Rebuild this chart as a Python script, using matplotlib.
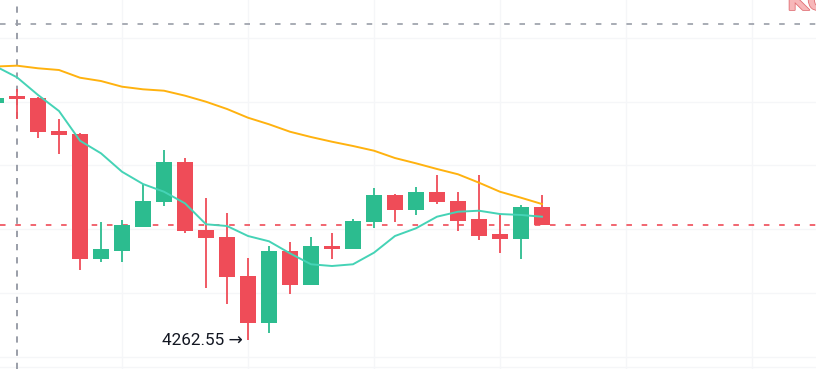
import matplotlib
matplotlib.use("Agg")
import matplotlib.pyplot as plt
import matplotlib.patheffects as pe
import numpy as np

plt.rcParams["lines.scale_dashes"] = False

# OHLC values, one per candle (index 0 is the partly hidden candle on the left edge)
OPEN = [4299.80, 4300.90, 4300.63, 4295.40, 4294.98, 4275.31, 4276.61, 4280.38, 4284.21,
        4290.49, 4279.86, 4278.71, 4272.64, 4265.21, 4276.61, 4271.23, 4277.35, 4276.88,
        4281.16, 4285.36, 4283.00, 4285.78, 4284.37, 4281.54, 4279.23, 4278.49, 4283.42]
HIGH = [4300.66, 4302.00, 4300.74, 4297.29, 4295.14, 4281.16, 4281.43, 4287.08, 4292.42,
        4291.12, 4284.84, 4282.58, 4275.42, 4277.35, 4278.02, 4278.81, 4279.34, 4281.59,
        4286.41, 4285.51, 4286.66, 4288.50, 4285.87, 4288.50, 4282.37, 4283.79, 4285.36]
LOW = [4299.72, 4297.29, 4294.35, 4291.79, 4273.58, 4274.88, 4274.84, 4280.38, 4283.63,
       4279.34, 4270.80, 4268.20, 4262.55, 4263.64, 4269.81, 4271.23, 4275.26, 4276.88,
       4280.22, 4281.16, 4282.22, 4283.94, 4279.70, 4278.29, 4276.20, 4275.26, 4280.69]
CLOSE = [4300.58, 4300.47, 4295.29, 4294.78, 4275.31, 4276.88, 4280.65, 4284.41, 4290.49,
         4279.75, 4278.56, 4272.43, 4265.21, 4276.61, 4271.23, 4277.35, 4276.88, 4281.32,
         4285.36, 4283.00, 4285.78, 4284.21, 4281.32, 4278.97, 4278.49, 4283.42, 4280.69]

# moving averages
MA_SLOW = [4305.53, 4305.66, 4305.25, 4304.98, 4303.77, 4303.25, 4302.36, 4301.95, 4301.73,
           4300.95, 4300.00, 4298.86, 4297.49, 4296.46, 4295.29, 4294.46, 4293.72, 4293.05,
           4292.31, 4291.16, 4290.33, 4289.44, 4288.61, 4287.29, 4285.87, 4284.93, 4283.94]
MA_FAST = [4305.53, 4303.83, 4301.06, 4298.54, 4293.88, 4291.90, 4289.01, 4287.08, 4285.87,
           4284.05, 4280.76, 4280.49, 4278.92, 4278.09, 4276.20, 4274.48, 4274.21, 4274.48,
           4276.30, 4278.92, 4280.13, 4281.95, 4282.73, 4282.89, 4282.37, 4282.22, 4281.95]

PRICE_GRID = [4260, 4270, 4280, 4290, 4300, 4310]
TIME_GRID = [6, 12, 18, 24, 30, 36]
CROSSHAIR_X = 1
CROSSHAIR_Y = 4312.28
LOW_LABEL = "4262.55 →"

UP = "#2CBC8F"
DOWN = "#EF4C58"
GRID = "#F5F6F8"


def main():
    fig = plt.figure(figsize=(8.16, 3.69), dpi=100)
    ax = fig.add_axes([0, 0, 1, 1])

    idx = np.arange(len(OPEN))
    o, h, l, c = map(np.array, (OPEN, HIGH, LOW, CLOSE))
    colors = [UP if cc >= oo else DOWN for oo, cc in zip(o, c)]

    # wicks and bodies
    ax.vlines(idx, l, h, colors=colors, linewidth=1.3, zorder=3)
    bottoms = np.minimum(o, c)
    heights = np.maximum(np.abs(c - o), 0.3)
    ax.bar(idx, heights, bottom=bottoms, width=0.77, color=colors, linewidth=0, zorder=4)

    ax.plot(idx, MA_SLOW, color="#FFB20F", lw=1.4, zorder=5)
    ax.plot(idx, MA_FAST, color="#45D3B6", lw=1.4, zorder=5)

    # last price and crosshair
    ax.axhline(CLOSE[-1], color="#EF4C58", lw=1.2, dashes=(4, 7), zorder=2)
    ax.axhline(CROSSHAIR_Y, color="#9A9EA8", lw=1.2, dashes=(4, 7), zorder=2)
    ax.axvline(CROSSHAIR_X, color="#9A9EA8", lw=1.4, dashes=(4.5, 5), zorder=2)

    low_i = int(np.argmin(l))
    ax.annotate(LOW_LABEL, xy=(low_i, l[low_i]), xytext=(-4, 0), textcoords="offset points",
                ha="right", va="center", fontsize=12.3, color="#131722",
                family=["Roboto", "DejaVu Sans"], zorder=6)

    ax.set_xlim(0.19, 39.05)
    ax.set_ylim(4258.04, 4315.97)
    ax.set_xticks(TIME_GRID)
    ax.set_yticks(PRICE_GRID)
    ax.tick_params(length=0, labelbottom=False, labelleft=False)
    ax.grid(color=GRID, lw=1.0, zorder=0)
    ax.set_axisbelow(True)
    for s in ax.spines.values():
        s.set_visible(False)
    ax.axhline(4258.4, color=GRID, lw=1.0, zorder=0)

    # watermark cut off at the top right
    fig.text(787 / 816, 1 - 10 / 369, "KO", fontsize=20, color="#F7B7B9",
             fontweight="bold", va="baseline", ha="left",
             path_effects=[pe.withStroke(linewidth=1.2, foreground="#E07075")])

    fig.savefig("out.png", dpi=100, facecolor="white")


if __name__ == "__main__":
    main()
